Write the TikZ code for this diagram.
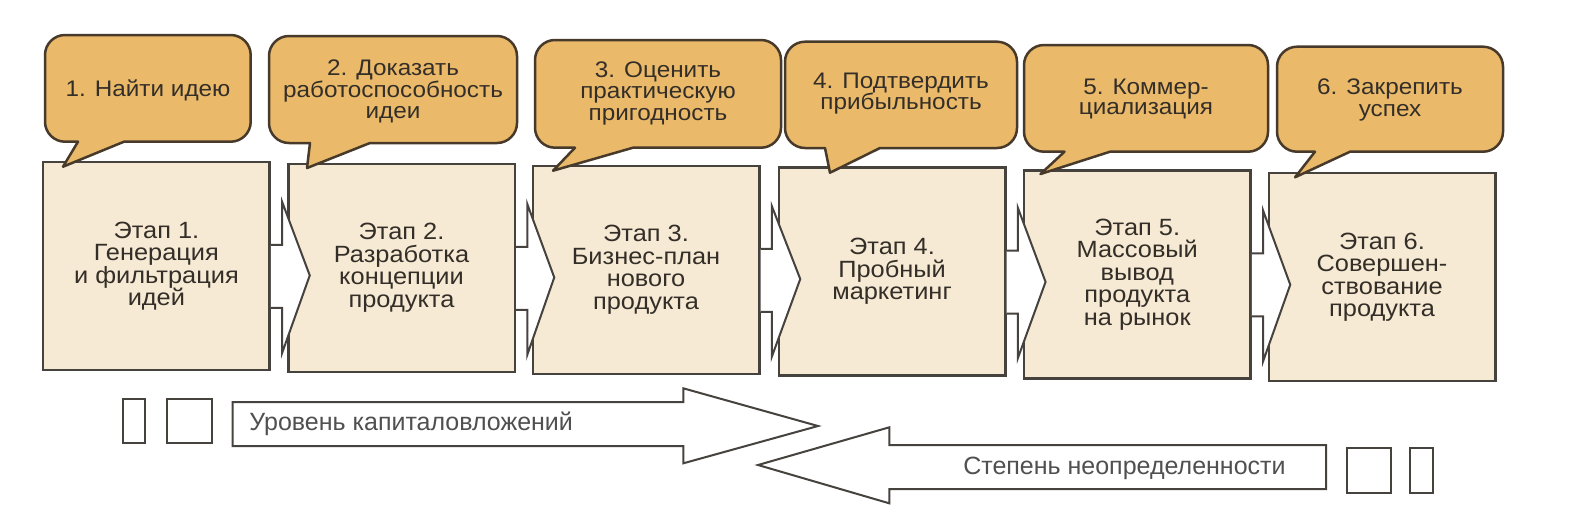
\documentclass[tikz,border=0pt]{standalone}
\usepackage{fontspec}
\setmainfont{Liberation Sans}
\newfontfamily\widefont[FakeStretch=1.08]{Liberation Sans}
\usetikzlibrary{calc}
\definecolor{bubblefill}{RGB}{234,186,106}
\definecolor{bubbleline}{RGB}{72,58,42}
\definecolor{boxfill}{RGB}{246,234,212}
\definecolor{boxline}{RGB}{70,66,62}
\definecolor{textc}{RGB}{52,46,40}
\definecolor{graytext}{RGB}{80,80,80}
\tikzset{
  stagebox/.style={draw=boxline, line width=1.25pt, fill=boxfill,
    minimum width=113.25pt, minimum height=104pt, inner sep=0pt, outer sep=0pt,
    align=center, text=textc,
    font=\widefont\fontsize{11.75}{11.25}\selectfont},
  bubbleshape/.style={draw=bubbleline, line width=1.25pt, fill=bubblefill, line join=round},
  bubbletext/.style={align=center, text=textc, inner sep=0pt,
    font=\widefont\fontsize{11.25}{10.75}\selectfont},
  tightbubble/.style={font=\widefont\fontsize{11.25}{10.2}\selectfont},
  link/.style={draw=boxline, line width=1pt, fill=white, line join=miter},
  bigarrow/.style={draw=boxline, line width=1pt, fill=white, line join=miter},
  smallbox/.style={draw=boxline, line width=1pt, inner sep=0pt, outer sep=0pt},
  bottomtext/.style={text=graytext, inner sep=0pt, font=\fontsize{12.5}{14}\selectfont},
}
% #1 L, #2 R, #3 T, #4 B, #5 tail left base, #6 tail right base, #7 tip x, #8 tip y
\newcommand\drawbubble[8]{%
  \draw[bubbleshape] (#1+20,#3) -- (#2-20,#3) .. controls (#2-9,#3) and (#2,#3+9) .. (#2,#3+20)
    -- (#2,#4-20) .. controls (#2,#4-9) and (#2-9,#4) .. (#2-20,#4)
    -- (#6,#4) -- (#7,#8) -- (#5,#4)
    -- (#1+20,#4) .. controls (#1+9,#4) and (#1,#4-9) .. (#1,#4-20)
    -- (#1,#3+20) .. controls (#1,#3+9) and (#1+9,#3) .. (#1+20,#3) -- cycle;}
% arrow between stage boxes: #1 from node, #2 to node
\newcommand\stagelink[2]{%
  \draw[link] ($(#1.east)+(1.3,-21)$) -- ($(#1.east)+(12.5,-21)$)
    -- ($(#1.east)+(12.5,-64)$) -- ($(#2.west)+(21.5,7.5)$)
    -- ($(#1.east)+(12.5,87)$) -- ($(#1.east)+(12.5,42)$)
    -- ($(#1.east)+(1.3,42)$);}
\begin{document}
\setlength{\lineskiplimit}{-20pt}
\begin{tikzpicture}[x=0.5pt,y=-0.5pt]
\fill[white] (0,0) rectangle (1578,531);
\useasboundingbox (0,0) rectangle (1578,531);

% stage boxes
\node[stagebox] (s1) at (156.4,265.9) {Этап 1.\\Генерация\\и фильтрация\\идей};
\node[stagebox] (s2) at (401.5,267.9) {Этап 2.\\Разработка\\концепции\\продукта};
\node[stagebox] (s3) at (646,269.9) {Этап 3.\\Бизнес-план\\нового\\продукта};
\node[stagebox] (s4) at (892,271.5) {Этап 4.\\Пробный\\маркетинг};
\node[stagebox] (s5) at (1137.3,274.4) {Этап 5.\\Массовый\\вывод\\продукта\\на рынок};
\node[stagebox] (s6) at (1382,277.2) {Этап 6.\\Совершен-\\ствование\\продукта};

% links between stages
\stagelink{s1}{s2}
\stagelink{s2}{s3}
\stagelink{s3}{s4}
\stagelink{s4}{s5}
\stagelink{s5}{s6}

% speech bubbles
\drawbubble{45}{250.7}{35}{141.7}{78}{124}{63}{166.7}
\drawbubble{269}{517}{36}{143}{310}{370}{307}{168}
\drawbubble{535}{781}{40}{147.7}{575}{633}{553}{170.7}
\drawbubble{785}{1017}{41.7}{148}{825}{880}{830}{172.7}
\drawbubble{1024}{1268}{45}{151.7}{1064.5}{1110}{1040.5}{174}
\drawbubble{1277}{1503}{46.7}{151.7}{1315}{1350}{1295}{177.3}

\node[bubbletext] (b1) at (148,90) {1. Найти идею};
\node[bubbletext] (b2) at (393,91.5) {2. Доказать\\работоспособность\\идеи};
\node[bubbletext] (b3) at (658,93) {3. Оценить\\практическую\\пригодность};
\node[bubbletext] (b4) at (901,93.5) {4. Подтвердить\\прибыльность};
\node[bubbletext,tightbubble] (b5) at (1146,99) {5. Коммер-\\циализация};
\node[bubbletext] (b6) at (1390,100) {6. Закрепить\\успех};

% bottom arrows
\draw[bigarrow] (232.7,402) -- (683.3,402) -- (683.3,388.3) -- (818,426)
  -- (683.3,463.3) -- (683.3,446) -- (232.7,446) -- cycle;
\draw[bigarrow] (1326,445) -- (889.3,445) -- (889.3,427.3) -- (758,465)
  -- (889.3,503.3) -- (889.3,489) -- (1326,489) -- cycle;
\node[bottomtext, anchor=west] (inv) at (249,423.5) {Уровень капиталовложений};
\node[bottomtext, anchor=east] (unc) at (1286,468) {Степень неопределенности};

% small squares
\node[smallbox, minimum width=10.85pt, minimum height=22pt] (q1) at (134.2,421.3) {};
\node[smallbox, minimum width=22.5pt, minimum height=22pt] (q2) at (189.2,421.3) {};
\node[smallbox, minimum width=21.7pt, minimum height=22.5pt] (q3) at (1369,470.2) {};
\node[smallbox, minimum width=11.35pt, minimum height=22.5pt] (q4) at (1421.4,470.8) {};
\end{tikzpicture}
\end{document}
